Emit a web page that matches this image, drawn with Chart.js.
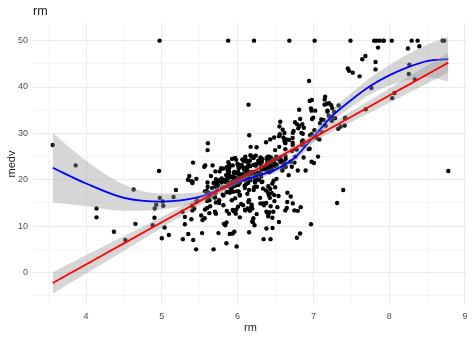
<!DOCTYPE html>
<html>
<head>
<meta charset="utf-8">
<script src="https://cdn.jsdelivr.net/npm/chart.js@4.4.1/dist/chart.umd.min.js"></script>
<style>
  html, body { margin: 0; padding: 0; background: #ffffff; }
  #wrap { width: 474px; height: 338px; }
</style>
</head>
<body>
<div id="wrap"><canvas id="chart" width="474" height="338"></canvas></div>
<script>
// rooms per dwelling vs median value, [rm, medv]
const obs = [
  [6.575,24.0],[6.421,21.6],[7.185,34.7],[6.998,33.4],[7.147,36.2],[6.430,28.7],[6.012,22.9],[6.172,27.1],
  [5.631,16.5],[6.004,18.9],[6.377,15.0],[6.009,18.9],[5.889,21.7],[5.949,20.4],[6.096,18.2],[5.834,19.9],
  [5.935,23.1],[5.990,17.5],[5.456,20.2],[5.727,18.2],[5.570,13.6],[5.965,19.6],[6.142,15.2],[5.813,14.5],
  [5.924,15.6],[5.599,13.9],[5.813,16.6],[6.047,14.8],[6.495,18.4],[6.674,21.0],[5.713,12.7],[6.072,14.5],
  [5.950,13.2],[5.701,13.1],[6.096,13.5],[5.933,18.9],[5.841,20.0],[5.850,21.0],[5.966,24.7],[6.595,30.8],
  [7.024,34.9],[6.770,26.6],[6.169,25.3],[6.211,24.7],[6.069,21.2],[5.682,19.3],[5.786,20.0],[6.030,16.6],
  [5.399,14.4],[5.602,19.4],[5.963,19.7],[6.115,20.5],[6.511,25.0],[5.998,23.4],[5.888,18.9],[7.249,35.4],
  [6.383,24.7],[6.816,31.6],[6.145,23.3],[5.927,19.6],[5.741,18.7],[5.966,16.0],[6.456,22.2],[6.762,25.0],
  [7.104,33.0],[6.290,23.5],[5.787,19.4],[5.878,22.0],[5.594,17.4],[5.885,20.9],[6.417,24.2],[5.961,21.7],
  [6.065,22.8],[6.245,23.4],[6.273,24.1],[6.286,21.4],[6.279,20.0],[6.140,20.8],[6.232,21.2],[5.874,20.3],
  [6.727,28.0],[6.619,23.9],[6.302,24.8],[6.167,22.9],[6.389,23.9],[6.630,26.6],[6.015,22.5],[6.121,22.2],
  [7.007,23.6],[7.079,28.7],[6.417,22.6],[6.405,22.0],[6.442,22.9],[6.211,25.0],[6.249,20.6],[6.625,28.4],
  [6.163,21.4],[8.069,38.7],[7.820,43.8],[7.416,33.2],[6.727,27.5],[6.781,26.5],[6.405,18.6],[6.137,19.3],
  [6.167,20.1],[5.851,19.5],[5.836,19.5],[6.127,20.4],[6.474,19.8],[6.229,19.4],[6.195,21.7],[6.715,22.8],
  [5.913,18.8],[6.092,18.7],[6.254,18.5],[5.928,18.3],[6.176,21.2],[6.021,19.2],[5.872,20.4],[5.731,19.3],
  [5.870,22.0],[6.004,20.3],[5.961,20.5],[5.856,17.3],[5.879,18.8],[5.986,21.4],[5.613,15.7],[5.693,16.2],
  [6.431,18.0],[5.637,14.3],[6.458,19.2],[6.326,19.6],[6.372,23.0],[5.822,18.4],[5.757,15.6],[6.335,18.1],
  [5.942,17.4],[6.454,17.1],[5.857,13.3],[6.151,17.8],[6.174,14.0],[5.019,14.4],[5.403,13.4],[5.468,15.6],
  [4.903,11.8],[6.130,13.8],[5.628,15.6],[4.926,14.6],[5.186,17.8],[5.597,15.4],[6.122,21.5],[5.404,19.6],
  [5.012,15.3],[5.709,19.4],[6.129,17.0],[6.152,15.6],[5.272,13.1],[6.943,41.3],[6.066,24.3],[6.510,23.3],
  [6.250,27.0],[7.489,50.0],[7.802,50.0],[8.375,50.0],[5.854,22.7],[6.101,25.0],[7.929,50.0],[5.877,23.8],
  [6.319,23.8],[6.402,22.3],[5.875,17.4],[5.880,19.1],[5.572,23.1],[6.416,23.6],[5.859,22.6],[6.546,29.4],
  [6.020,23.2],[6.315,24.6],[6.860,29.9],[6.980,37.2],[7.765,39.8],[6.144,36.2],[7.155,37.9],[6.563,32.5],
  [5.604,26.4],[6.153,29.6],[7.831,50.0],[6.782,32.0],[6.556,29.8],[7.185,34.9],[6.951,37.0],[6.739,30.5],
  [7.178,36.4],[6.800,31.1],[6.604,29.1],[7.875,50.0],[7.287,33.3],[7.107,30.3],[7.274,34.6],[6.975,34.9],
  [7.135,32.9],[6.162,24.1],[7.610,42.3],[7.853,48.5],[8.034,50.0],[5.891,22.6],[6.326,24.4],[5.783,22.5],
  [6.064,24.4],[5.344,20.0],[5.960,21.7],[5.404,19.3],[5.807,22.4],[6.375,28.1],[5.412,23.7],[6.182,25.0],
  [5.888,23.3],[6.642,28.7],[5.951,21.5],[6.373,23.0],[6.951,26.7],[6.164,21.7],[6.879,27.5],[6.618,30.1],
  [8.266,44.8],[8.725,50.0],[8.040,37.6],[7.163,31.6],[7.686,46.7],[6.552,31.5],[5.981,24.3],[7.412,31.7],
  [8.337,41.7],[8.247,48.3],[6.726,29.0],[6.086,24.0],[6.631,25.1],[7.358,31.5],[6.481,23.7],[6.606,23.3],
  [6.897,22.0],[6.095,20.1],[6.358,22.2],[6.393,23.7],[5.593,17.6],[5.605,18.5],[6.108,24.3],[6.226,20.5],
  [6.433,24.5],[6.718,26.2],[6.487,24.4],[6.438,24.8],[6.957,29.6],[8.259,42.8],[6.108,21.9],[5.876,20.9],
  [7.454,44.0],[8.704,50.0],[7.333,36.0],[6.842,30.1],[7.203,33.8],[7.520,43.1],[8.398,48.8],[7.327,31.0],
  [7.206,36.5],[5.560,22.8],[7.014,30.7],[8.297,50.0],[7.470,43.5],[5.920,20.7],[5.856,21.1],[6.240,25.2],
  [6.538,24.4],[7.691,35.2],[6.758,32.4],[6.854,32.0],[7.267,33.2],[6.826,33.1],[6.482,29.1],[6.812,35.1],
  [7.820,45.4],[6.968,35.4],[7.645,46.0],[7.923,50.0],[7.088,32.2],[6.453,22.0],[6.230,20.1],[6.209,23.2],
  [6.315,22.3],[6.565,24.8],[6.861,28.5],[7.148,37.3],[6.630,27.9],[6.127,23.9],[6.009,21.7],[6.678,28.6],
  [6.549,27.1],[5.790,20.3],[6.345,22.5],[7.041,29.0],[6.871,24.8],[6.590,22.0],[6.495,26.4],[6.982,33.1],
  [7.236,36.1],[6.616,28.4],[7.420,33.4],[6.849,28.2],[6.635,22.8],[5.972,20.3],[4.973,16.1],[6.122,22.1],
  [6.023,19.4],[6.266,21.6],[6.567,23.8],[5.705,16.2],[5.914,17.8],[5.782,19.8],[6.382,23.1],[6.113,21.0],
  [6.426,23.8],[6.376,23.1],[6.041,20.4],[5.708,18.5],[6.415,25.0],[6.431,24.6],[6.312,23.0],[6.083,22.2],
  [5.868,19.3],[6.333,22.6],[6.144,19.8],[5.706,17.1],[6.031,19.4],[6.316,22.2],[6.310,20.7],[6.037,21.1],
  [5.869,19.5],[5.895,18.5],[6.059,20.6],[5.985,19.0],[5.968,18.7],[7.241,32.7],[6.540,16.5],[6.696,23.9],
  [6.874,31.2],[6.014,17.5],[5.898,17.2],[6.516,23.1],[6.635,24.5],[6.939,26.6],[6.490,22.9],[6.579,24.1],
  [5.884,18.6],[6.728,30.1],[5.663,18.2],[5.936,20.6],[6.212,17.8],[6.395,21.7],[6.127,22.7],[6.112,22.6],
  [6.398,25.0],[6.251,19.9],[5.362,20.8],[5.803,16.8],[8.780,21.9],[3.561,27.5],[4.963,21.9],[3.863,23.1],
  [4.970,50.0],[6.683,50.0],[7.016,50.0],[6.216,50.0],[5.875,50.0],[4.906,13.8],[4.138,13.8],[7.313,15.0],
  [6.649,13.9],[6.794,13.3],[6.380,13.1],[6.223,10.2],[6.968,10.4],[6.545,10.9],[5.536,11.3],[5.520,12.3],
  [4.368,8.8],[5.277,7.2],[4.652,10.5],[5.000,7.4],[4.880,10.2],[5.390,11.5],[5.713,15.1],[6.051,23.2],
  [5.036,9.7],[6.193,13.8],[5.887,12.7],[6.471,13.1],[6.405,12.5],[5.747,8.5],[5.453,5.0],[5.852,6.3],
  [5.987,5.6],[6.343,7.2],[6.404,12.1],[5.349,8.3],[5.531,8.5],[5.683,5.0],[4.138,11.9],[5.608,27.9],
  [5.617,17.2],[6.852,27.5],[5.757,15.0],[6.657,17.2],[4.628,17.9],[5.155,16.3],[4.519,7.0],[6.434,7.2],
  [6.782,7.5],[5.304,10.4],[5.957,8.8],[6.824,8.4],[6.411,16.7],[6.006,14.2],[5.648,20.8],[6.103,13.4],
  [5.565,11.7],[5.896,8.3],[5.837,10.2],[6.202,10.9],[6.193,11.0],[6.380,9.5],[6.348,14.5],[6.833,14.1],
  [6.425,16.1],[6.436,14.3],[6.208,11.7],[6.629,13.4],[6.461,9.6],[6.152,8.7],[5.935,8.4],[5.627,12.8],
  [5.818,10.5],[6.406,17.1],[6.219,18.4],[6.485,15.4],[5.854,10.8],[6.459,11.8],[6.341,14.9],[6.251,12.6],
  [6.185,14.1],[6.417,13.0],[6.749,13.4],[6.655,15.2],[6.297,16.1],[7.393,17.8],[6.728,14.9],[6.525,14.1],
  [5.976,12.7],[5.936,13.5],[6.301,14.9],[6.081,20.0],[6.701,16.4],[6.376,17.7],[6.317,19.5],[6.513,20.2],
  [6.209,21.4],[5.759,19.9],[5.952,19.0],[6.003,19.1],[5.926,19.1],[5.713,20.1],[6.167,19.9],[6.229,19.6],
  [6.437,23.2],[6.980,29.8],[5.427,13.8],[6.162,13.3],[6.484,16.7],[5.304,12.0],[6.185,14.6],[6.229,21.4],
  [6.242,23.0],[6.750,23.7],[7.061,25.0],[5.762,21.8],[5.871,20.6],[6.312,21.2],[6.114,19.1],[5.905,20.6],
  [5.454,15.2],[5.414,7.0],[5.093,8.1],[5.983,13.6],[5.983,20.1],[5.707,21.8],[5.926,24.5],[5.670,23.1],
  [5.390,19.7],[5.794,18.3],[6.019,21.2],[5.569,17.5],[6.027,16.8],[6.593,22.4],[6.120,20.6],[6.976,23.9],
  [6.794,22.0],[6.030,11.9]
];

// linear fit with its 95% band
const lmX     = [3.561, 4.0, 4.5, 5.0, 5.5, 6.0, 6.5, 7.0, 7.5, 8.0, 8.5, 8.78];
const lmFit   = [-2.26, 1.74, 6.29, 10.84, 15.39, 19.94, 24.49, 29.04, 33.59, 38.15, 42.70, 45.25];
const lmLower = [-4.57, -0.23, 4.71, 9.63, 14.52, 19.32, 23.89, 28.22, 32.44, 36.62, 40.78, 43.11];
const lmUpper = [0.06, 3.70, 7.87, 12.05, 16.26, 20.57, 25.10, 29.87, 34.75, 39.67, 44.61, 47.38];

// loess curve with its band
const loX     = [3.561, 4.0, 4.5, 5.0, 5.5, 5.75, 6.0, 6.25, 6.5, 6.75, 7.0, 7.25, 7.5, 7.75, 8.0, 8.25, 8.5, 8.78];
const loFit   = [22.6, 19.2, 16.1, 15.3, 16.3, 17.8, 19.6, 20.8, 22.2, 24.7, 29.2, 33.8, 37.2, 40.2, 42.5, 44.3, 45.6, 46.0];
const loLower = [15.1, 14.3, 13.3, 13.6, 15.3, 17.0, 19.0, 20.2, 21.5, 23.8, 28.1, 32.5, 35.7, 38.4, 40.3, 41.5, 42.1, 41.2];
const loUpper = [30.1, 24.1, 19.0, 17.0, 17.3, 18.6, 20.2, 21.4, 22.9, 25.6, 30.3, 35.1, 38.7, 42.0, 44.7, 47.1, 49.1, 50.8];

// labelled ticks and the gridlines in between
const xTicks = [4, 5, 6, 7, 8, 9];
const xGrid  = [3.5, 4, 4.5, 5, 5.5, 6, 6.5, 7, 7.5, 8, 8.5, 9];
const yTicks = [0, 10, 20, 30, 40, 50];
const yGrid  = [-5, 0, 5, 10, 15, 20, 25, 30, 35, 40, 45, 50];

const pairs = (xs, ys) => xs.map((x, i) => ({ x: x, y: ys[i] }));
const isMajor = (v, list) => list.some(t => Math.abs(t - v) < 1e-6);

const bandFill = 'rgba(153,153,153,0.4)';
const FONT = '"Liberation Sans", Arial, sans-serif';

// plot title, left-aligned with the panel
const plotTitle = {
    id: 'plotTitle',
    afterDraw(chart) {
        const ctx = chart.ctx;
        ctx.save();
        ctx.font = '12.5px ' + FONT;
        ctx.fillStyle = '#1a1a1a';
        ctx.textAlign = 'left';
        ctx.textBaseline = 'middle';
        ctx.fillText('rm', chart.chartArea.left, 12);
        ctx.restore();
    }
};

const lineBase = { pointRadius: 0, pointHoverRadius: 0, cubicInterpolationMode: 'monotone' };
const hidden = 'rgba(0,0,0,0)';

new Chart(document.getElementById('chart').getContext('2d'), {
    type: 'scatter',
    data: {
        datasets: [
            Object.assign({ type: 'line', data: pairs(lmX, lmFit), borderColor: '#ff0000', borderWidth: 1.8, fill: false, order: 1 }, lineBase),
            Object.assign({ type: 'line', data: pairs(lmX, lmLower), borderWidth: 0, borderColor: hidden, fill: false, order: 2 }, lineBase),
            Object.assign({ type: 'line', data: pairs(lmX, lmUpper), borderWidth: 0, borderColor: hidden, backgroundColor: bandFill, fill: '-1', order: 2 }, lineBase),
            Object.assign({ type: 'line', data: pairs(loX, loFit), borderColor: '#0000ff', borderWidth: 1.8, fill: false, order: 3 }, lineBase),
            Object.assign({ type: 'line', data: pairs(loX, loLower), borderWidth: 0, borderColor: hidden, fill: false, order: 4 }, lineBase),
            Object.assign({ type: 'line', data: pairs(loX, loUpper), borderWidth: 0, borderColor: hidden, backgroundColor: bandFill, fill: '-1', order: 4 }, lineBase),
            {
                data: obs.map(p => ({ x: p[0], y: p[1] })),
                backgroundColor: '#000000',
                borderWidth: 0,
                pointRadius: 2.2,
                order: 5
            }
        ]
    },
    options: {
        responsive: false,
        animation: false,
        events: [],
        layout: { padding: { top: 23, right: 6, left: 0, bottom: 0 } },
        plugins: {
            legend: { display: false },
            tooltip: { enabled: false }
        },
        scales: {
            x: {
                type: 'linear',
                min: 3.30,
                max: 9.04,
                afterBuildTicks: scale => { scale.ticks = xGrid.map(v => ({ value: v })); },
                afterFit: scale => { scale.height = 33; },
                border: { display: false },
                grid: {
                    drawTicks: false,
                    color: c => isMajor(c.tick.value, xTicks) ? '#ebebeb' : '#f3f3f3',
                    lineWidth: c => isMajor(c.tick.value, xTicks) ? 1 : 0.8
                },
                ticks: {
                    autoSkip: false,
                    maxRotation: 0,
                    padding: 6,
                    color: '#4d4d4d',
                    font: { family: FONT, size: 9 },
                    callback: v => isMajor(v, xTicks) ? String(v) : ''
                },
                title: {
                    display: true,
                    text: 'rm',
                    color: '#1a1a1a',
                    font: { family: FONT, size: 11 },
                    padding: { top: 0, bottom: 3 }
                }
            },
            y: {
                type: 'linear',
                min: -7,
                max: 53.8,
                afterBuildTicks: scale => { scale.ticks = yGrid.map(v => ({ value: v })); },
                afterFit: scale => { scale.width = 33; },
                border: { display: false },
                grid: {
                    drawTicks: false,
                    color: c => isMajor(c.tick.value, yTicks) ? '#ebebeb' : '#f3f3f3',
                    lineWidth: c => isMajor(c.tick.value, yTicks) ? 1 : 0.8
                },
                ticks: {
                    autoSkip: false,
                    padding: 5,
                    color: '#4d4d4d',
                    font: { family: FONT, size: 9 },
                    callback: v => isMajor(v, yTicks) ? String(v) : ''
                },
                title: {
                    display: true,
                    text: 'medv',
                    color: '#1a1a1a',
                    font: { family: FONT, size: 11 },
                    padding: { top: 5, bottom: 0 }
                }
            }
        }
    },
    plugins: [plotTitle]
});
</script>
</body>
</html>
